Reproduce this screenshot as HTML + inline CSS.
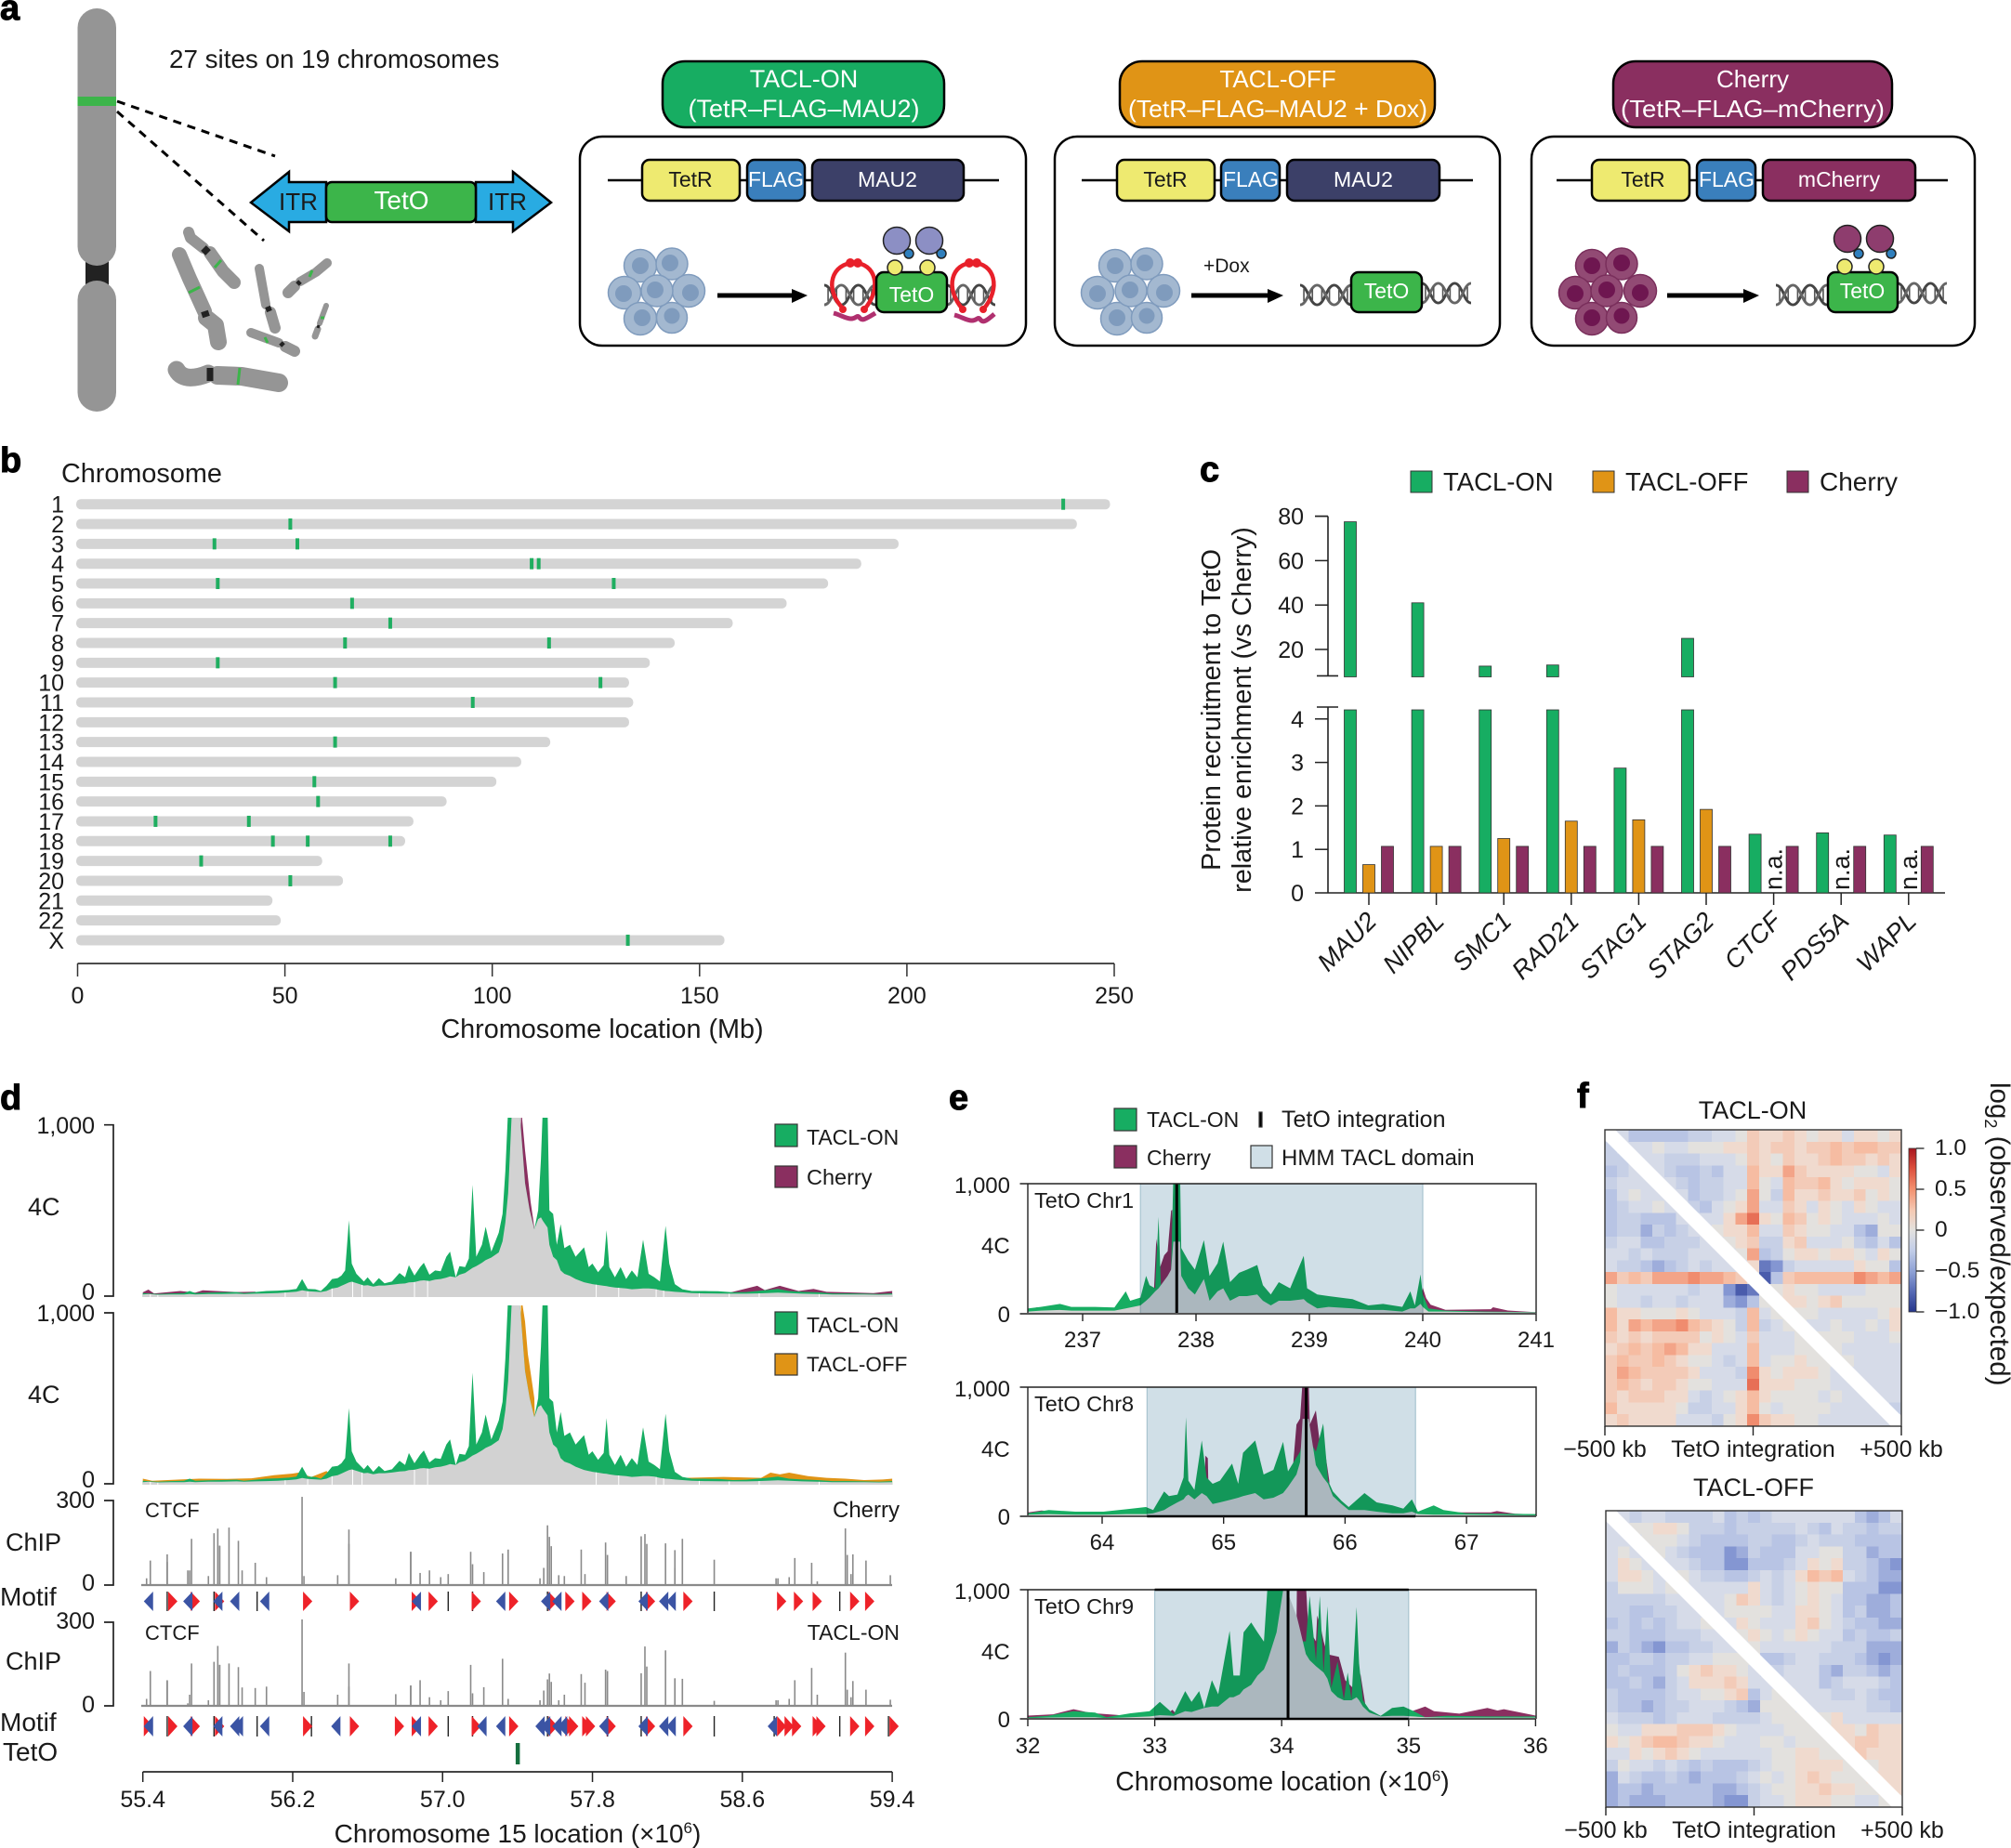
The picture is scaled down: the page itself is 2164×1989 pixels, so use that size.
<!DOCTYPE html>
<html lang="en">
<head>
<meta charset="utf-8">
<title>TACL figure</title>
<style>
html,body{margin:0;padding:0;background:#fff}
svg{display:block;font-family:"Liberation Sans",sans-serif;fill:#1a1a1a}
.w{fill:#fff}
.pl{stroke:#000;stroke-width:1}
</style>
</head>
<body>
<svg id="figure" xmlns="http://www.w3.org/2000/svg" width="2164" height="1989" viewBox="0 0 2164 1989">
<defs>
<linearGradient id="cbar" x1="0" y1="0" x2="0" y2="1">
<stop offset="0" stop-color="#a8161f"/><stop offset=".12" stop-color="#dc4e3c"/><stop offset=".25" stop-color="#f3916f"/><stop offset=".38" stop-color="#f5c9b3"/><stop offset=".5" stop-color="#e3e1de"/><stop offset=".62" stop-color="#c3cee8"/><stop offset=".75" stop-color="#8fa2d6"/><stop offset=".88" stop-color="#5468b4"/><stop offset="1" stop-color="#25358c"/>
</linearGradient>
<symbol id="dna" viewBox="0 0 54 26" overflow="visible" preserveAspectRatio="none">
<path d="M0,2C8,2 10,24 18,24S28,2 36,2S46,24 54,24" fill="none" stroke="#444" stroke-width="3"/>
<path d="M0,24C8,24 10,2 18,2S28,24 36,24S46,2 54,2" fill="none" stroke="#666" stroke-width="3"/>
<path d="M4,6V20M13,6V20M23,6V20M31,6V20M41,6V20M50,6V20" stroke="#555" stroke-width="1.6"/>
</symbol>
</defs>

<g>
<text x="0" y="21" font-size="38" font-weight="bold" fill="#000" class="pl">a</text>
<g>
<rect x="92" y="280" width="25" height="28" fill="#222"/>
<rect x="83.5" y="9" width="41.5" height="277" rx="20.7" fill="#959595"/>
<rect x="83.5" y="302" width="41.5" height="141" rx="20.7" fill="#959595"/>
<rect x="83.5" y="104" width="41.5" height="10" fill="#3cb54a"/>
</g>
<path d="M126,109L296,168M126,120L284,259" stroke="#000" stroke-width="3" stroke-dasharray="9 7" fill="none"/>
<text x="182" y="73" font-size="27.8">27 sites on 19 chromosomes</text>
<g fill="none" stroke-linecap="round" stroke-linejoin="round">
<g stroke="#959595">
<path d="M203,250L205,256L219,267" stroke-width="12"/><path d="M226,272L240,292L252,304" stroke-width="14"/>
<path d="M193,274L204,300L210,313L220,335" stroke-width="16"/><path d="M222,342L232,350L235,368" stroke-width="18"/>
<path d="M279,289L286,328" stroke-width="10"/><path d="M291,336L296,353" stroke-width="12"/>
<path d="M352,283L340,293L323,303" stroke-width="10"/><path d="M317,308L310,315" stroke-width="12"/>
<path d="M351,329L344,348" stroke-width="6"/><path d="M342,354L339,362" stroke-width="7"/>
<path d="M270,358L300,369" stroke-width="10"/><path d="M307,373L317,378" stroke-width="12"/>
<path d="M190,398C196,410 212,407 224,402" stroke-width="19"/><path d="M234,404L260,405L300,412" stroke-width="20"/>
</g>
<g stroke="#222" stroke-linecap="butt">
<path d="M219,267L224,272" stroke-width="8"/><path d="M220,335L222,341" stroke-width="8"/><path d="M288,330L290,335" stroke-width="6"/><path d="M323,303L320,306" stroke-width="5"/><path d="M343,350L342,353" stroke-width="3"/><path d="M302,369L305,372" stroke-width="5"/><path d="M226,396V410" stroke-width="7"/>
</g>
<g stroke="#3cb54a" stroke-linecap="butt" stroke-width="3">
<path d="M231,288L238,280M203,315L215,309M333,298L336,291M345,342L349,342M285,363L288,369M258,396L256,414"/>
</g>
</g>
<g stroke="#000" stroke-width="2.5">
<polygon points="270,218 311,185 311,196 351,196 351,239 311,239 311,249" fill="#29abe2"/>
<polygon points="593,218 552,185 552,196 512,196 512,239 552,239 552,249" fill="#29abe2"/>
<rect x="351" y="196" width="161" height="43" rx="6" fill="#3cb54a"/>
</g>
<text x="321" y="226" font-size="26" text-anchor="middle">ITR</text>
<text x="432" y="225" font-size="28" text-anchor="middle" class="w">TetO</text>
<text x="546" y="226" font-size="26" text-anchor="middle">ITR</text>

<g>
<rect x="713" y="66" width="303" height="71" rx="24" fill="#17ad62" stroke="#000" stroke-width="2.5"/>
<text x="865" y="94" font-size="27" text-anchor="middle" class="w">TACL-ON</text>
<text x="865" y="126" font-size="27" text-anchor="middle" class="w">(TetR–FLAG–MAU2)</text>
<rect x="624" y="147" width="480" height="225" rx="24" fill="#fff" stroke="#000" stroke-width="2.5"/>
<path d="M654,194H1075" stroke="#000" stroke-width="2.5"/>
<rect x="691" y="172" width="105" height="44" rx="8" fill="#eeea70" stroke="#000" stroke-width="2.5"/>
<rect x="804" y="172" width="62" height="44" rx="8" fill="#3a7fbc" stroke="#000" stroke-width="2.5"/>
<rect x="874" y="172" width="163" height="44" rx="8" fill="#3c4068" stroke="#000" stroke-width="2.5"/>
<text x="743" y="201" font-size="23" text-anchor="middle">TetR</text>
<text x="835" y="201" font-size="23" text-anchor="middle" class="w">FLAG</text>
<text x="955" y="201" font-size="23" text-anchor="middle" class="w">MAU2</text>
<g fill="#a3b8d0" stroke="#7f9bbd" stroke-width="1.5">
<circle cx="689" cy="286" r="17.5"/><circle cx="723" cy="284" r="17"/><circle cx="672" cy="315" r="17.5"/><circle cx="741" cy="313" r="17.5"/><circle cx="689" cy="343" r="17.5"/><circle cx="723" cy="342" r="16.5"/><circle cx="707" cy="313" r="17"/>
<g fill="#7f9bbd" stroke="none"><circle cx="689" cy="286" r="9"/><circle cx="721" cy="283" r="9"/><circle cx="671" cy="316" r="9"/><circle cx="743" cy="315" r="9"/><circle cx="691" cy="342" r="9"/><circle cx="723" cy="340" r="8.5"/><circle cx="705" cy="312" r="9"/></g>
</g>
<path d="M772,318H856" stroke="#000" stroke-width="5"/><polygon points="852,311 869,318 852,326" fill="#000"/>
<use href="#dna" x="887" y="305" width="55" height="25"/><use href="#dna" x="1019" y="305" width="52" height="25"/>
<g fill="none" stroke="#e8202a" stroke-width="4.5">
<path d="M908,333C885,310 896,283 919,283C942,283 950,310 930,333"/><path d="M1036,333C1016,310 1024,283 1047,283C1070,283 1078,310 1058,333"/>
</g>
<g fill="#e8202a"><circle cx="915" cy="283" r="5"/><circle cx="923" cy="283" r="5"/><circle cx="1043" cy="283" r="5"/><circle cx="1051" cy="283" r="5"/><circle cx="907" cy="333" r="4"/><circle cx="930" cy="333" r="4"/><circle cx="1036" cy="333" r="4"/><circle cx="1058" cy="333" r="4"/></g>
<path d="M897,337C905,339 910,343 916,343S922,338 925,342S932,343 942,337M1027,339C1035,341 1040,345 1046,345S1052,340 1055,344S1062,345 1070,338" fill="none" stroke="#b0306f" stroke-width="5"/>
<rect x="943" y="293" width="76" height="43" rx="8" fill="#3cb54a" stroke="#000" stroke-width="2.5"/>
<text x="981" y="325" font-size="23" text-anchor="middle" class="w">TetO</text>
<path d="M965,272L975,272M1000,272L1010,272" stroke="#000" stroke-width="1"/>
<g stroke="#222" stroke-width="1.5"><circle cx="965" cy="259" r="14.5" fill="#8c8fc4"/><circle cx="1000" cy="259" r="14.5" fill="#8c8fc4"/><circle cx="978" cy="273" r="5" fill="#2f7fbd"/><circle cx="1013" cy="273" r="5" fill="#2f7fbd"/><circle cx="963" cy="288" r="8" fill="#eeea70"/><circle cx="998" cy="288" r="8" fill="#eeea70"/></g>
</g>

<g>
<rect x="1205" y="66" width="339" height="71" rx="24" fill="#e09416" stroke="#000" stroke-width="2.5"/>
<text x="1375" y="94" font-size="26" text-anchor="middle" class="w">TACL-OFF</text>
<text x="1375" y="126" font-size="26" text-anchor="middle" class="w" textLength="322" lengthAdjust="spacingAndGlyphs">(TetR–FLAG–MAU2 + Dox)</text>
<rect x="1135" y="147" width="479" height="225" rx="24" fill="#fff" stroke="#000" stroke-width="2.5"/>
<path d="M1164,194H1585" stroke="#000" stroke-width="2.5"/>
<rect x="1202" y="172" width="105" height="44" rx="8" fill="#eeea70" stroke="#000" stroke-width="2.5"/>
<rect x="1314" y="172" width="63" height="44" rx="8" fill="#3a7fbc" stroke="#000" stroke-width="2.5"/>
<rect x="1385" y="172" width="164" height="44" rx="8" fill="#3c4068" stroke="#000" stroke-width="2.5"/>
<text x="1254" y="201" font-size="23" text-anchor="middle">TetR</text>
<text x="1346" y="201" font-size="23" text-anchor="middle" class="w">FLAG</text>
<text x="1467" y="201" font-size="23" text-anchor="middle" class="w">MAU2</text>
<g fill="#a3b8d0" stroke="#7f9bbd" stroke-width="1.5">
<circle cx="1200" cy="286" r="17.5"/><circle cx="1234" cy="284" r="17"/><circle cx="1181" cy="315" r="17.5"/><circle cx="1252" cy="313" r="17.5"/><circle cx="1202" cy="343" r="17.5"/><circle cx="1234" cy="342" r="16.5"/><circle cx="1217" cy="313" r="17"/>
<g fill="#7f9bbd" stroke="none"><circle cx="1200" cy="286" r="9"/><circle cx="1232" cy="283" r="9"/><circle cx="1181" cy="316" r="9"/><circle cx="1253" cy="315" r="9"/><circle cx="1202" cy="342" r="9"/><circle cx="1234" cy="340" r="8.5"/><circle cx="1216" cy="312" r="9"/></g>
</g>
<text x="1295" y="293" font-size="21">+Dox</text>
<path d="M1282,318H1368" stroke="#000" stroke-width="5"/><polygon points="1364,311 1381,318 1364,326" fill="#000"/>
<use href="#dna" x="1399" y="305" width="55" height="25"/><use href="#dna" x="1530" y="303" width="53" height="25"/>
<rect x="1454" y="293" width="76" height="43" rx="8" fill="#3cb54a" stroke="#000" stroke-width="2.5"/>
<text x="1492" y="321" font-size="23" text-anchor="middle" class="w">TetO</text>
</g>

<g>
<rect x="1736" y="66" width="300" height="71" rx="24" fill="#8a2f60" stroke="#000" stroke-width="2.5"/>
<text x="1886" y="94" font-size="26" text-anchor="middle" class="w">Cherry</text>
<text x="1886" y="126" font-size="26" text-anchor="middle" class="w" textLength="284" lengthAdjust="spacingAndGlyphs">(TetR–FLAG–mCherry)</text>
<rect x="1648" y="147" width="477" height="225" rx="24" fill="#fff" stroke="#000" stroke-width="2.5"/>
<path d="M1675,194H2096" stroke="#000" stroke-width="2.5"/>
<rect x="1713" y="172" width="105" height="44" rx="8" fill="#eeea70" stroke="#000" stroke-width="2.5"/>
<rect x="1826" y="172" width="63" height="44" rx="8" fill="#3a7fbc" stroke="#000" stroke-width="2.5"/>
<rect x="1897" y="172" width="164" height="44" rx="8" fill="#8a2f60" stroke="#000" stroke-width="2.5"/>
<text x="1768" y="201" font-size="23" text-anchor="middle">TetR</text>
<text x="1858" y="201" font-size="23" text-anchor="middle" class="w">FLAG</text>
<text x="1979" y="201" font-size="23" text-anchor="middle" class="w">mCherry</text>
<g fill="#924a74" stroke="#7a2f5c" stroke-width="1.5">
<circle cx="1713" cy="286" r="17.5"/><circle cx="1745" cy="284" r="17"/><circle cx="1695" cy="315" r="17.5"/><circle cx="1765" cy="313" r="17.5"/><circle cx="1713" cy="343" r="17.5"/><circle cx="1745" cy="342" r="16.5"/><circle cx="1729" cy="313" r="17"/>
<g fill="#6e1650" stroke="none"><circle cx="1713" cy="286" r="9"/><circle cx="1745" cy="283" r="9"/><circle cx="1695" cy="316" r="9"/><circle cx="1765" cy="315" r="9"/><circle cx="1713" cy="342" r="9"/><circle cx="1745" cy="340" r="8.5"/><circle cx="1729" cy="312" r="9"/></g>
</g>
<path d="M1794,318H1880" stroke="#000" stroke-width="5"/><polygon points="1876,311 1893,318 1876,326" fill="#000"/>
<use href="#dna" x="1911" y="305" width="55" height="25"/><use href="#dna" x="2042" y="303" width="53" height="25"/>
<rect x="1967" y="293" width="75" height="43" rx="8" fill="#3cb54a" stroke="#000" stroke-width="2.5"/>
<text x="2004" y="321" font-size="23" text-anchor="middle" class="w">TetO</text>
<g stroke="#222" stroke-width="1.5"><circle cx="1988" cy="257" r="14.5" fill="#8e3d6e"/><circle cx="2023" cy="257" r="14.5" fill="#8e3d6e"/><circle cx="2000" cy="273" r="5" fill="#2f7fbd"/><circle cx="2035" cy="273" r="5" fill="#2f7fbd"/><circle cx="1985" cy="287" r="8" fill="#eeea70"/><circle cx="2019" cy="287" r="8" fill="#eeea70"/></g>
</g>
</g>

<g id="panel-b">
<text x="0" y="508" font-size="38" font-weight="bold" fill="#000" class="pl">b</text>
<text x="66" y="519" font-size="28.8">Chromosome</text>
<text x="648" y="1117" font-size="28.8" text-anchor="middle">Chromosome location (Mb)</text>
</g>

<g id="panel-c">
<text x="1291" y="518" font-size="38" font-weight="bold" fill="#000" class="pl">c</text>
<text transform="translate(1313,764) rotate(-90)" font-size="29" text-anchor="middle">Protein recruitment to TetO</text>
<text transform="translate(1346,764) rotate(-90)" font-size="28.8" text-anchor="middle">relative enrichment (vs Cherry)</text>
<g stroke="#333" stroke-width="1">
<rect x="1518" y="507" width="23" height="23" fill="#17ad62"/><rect x="1714" y="507" width="23" height="23" fill="#e09416"/><rect x="1923" y="507" width="23" height="23" fill="#8a2f60"/>
</g>
<text x="1553" y="528" font-size="27.5">TACL-ON</text>
<text x="1749" y="528" font-size="27.5">TACL-OFF</text>
<text x="1958" y="528" font-size="28">Cherry</text>
</g>

<g id="panel-d">
<text x="0" y="1194" font-size="38" font-weight="bold" fill="#000" class="pl">d</text>
<g stroke="#333" stroke-width="1.2">
<rect x="834" y="1210" width="24" height="24" fill="#17ad62"/><rect x="834" y="1255" width="24" height="23" fill="#8a2f60"/><rect x="834" y="1412" width="24" height="24" fill="#17ad62"/><rect x="834" y="1457" width="24" height="23" fill="#e09416"/>
</g>
<text x="868" y="1232" font-size="23">TACL-ON</text>
<text x="868" y="1275" font-size="23.5">Cherry</text>
<text x="868" y="1434" font-size="23">TACL-ON</text>
<text x="868" y="1476" font-size="22.5">TACL-OFF</text>
<text x="30" y="1308" font-size="27">4C</text>
<text x="30" y="1510" font-size="27">4C</text>
<text x="6" y="1669" font-size="27">ChIP</text>
<text x="6" y="1797" font-size="27">ChIP</text>
<text x="0" y="1728" font-size="28">Motif</text>
<text x="0" y="1863" font-size="28">Motif</text>
<text x="3" y="1895" font-size="28">TetO</text>
<text x="156" y="1633" font-size="22">CTCF</text>
<text x="156" y="1765" font-size="22">CTCF</text>
<text x="968" y="1633" font-size="24" text-anchor="end">Cherry</text>
<text x="968" y="1765" font-size="23" text-anchor="end">TACL-ON</text>
<text x="557" y="1983" font-size="28" text-anchor="middle">Chromosome 15 location (×10<tspan dy="-10" font-size="17">6</tspan><tspan dy="10">)</tspan></text>
</g>

<g id="panel-e">
<text x="1021" y="1194" font-size="38" font-weight="bold" fill="#000" class="pl">e</text>
<g stroke="#333" stroke-width="1.2">
<rect x="1199" y="1193" width="24" height="24" fill="#17ad62"/><rect x="1199" y="1233" width="24" height="24" fill="#8a2f60"/><rect x="1346" y="1233" width="23" height="24" fill="#d0dfe7"/><rect x="1355" y="1197" width="3" height="16" fill="#000"/>
</g>
<text x="1234" y="1213" font-size="23">TACL-ON</text>
<text x="1234" y="1254" font-size="23">Cherry</text>
<text x="1379" y="1213" font-size="25">TetO integration</text>
<text x="1379" y="1254" font-size="24">HMM TACL domain</text>
<text x="1380" y="1927" font-size="28.3" text-anchor="middle">Chromosome location (×10<tspan dy="-10" font-size="17">6</tspan><tspan dy="10">)</tspan></text>
</g>

<g id="panel-f">
<text x="1697" y="1192" font-size="38" font-weight="bold" fill="#000" class="pl">f</text>
<text x="1886" y="1204" font-size="27" text-anchor="middle">TACL-ON</text>
<text x="1887" y="1610" font-size="27" text-anchor="middle">TACL-OFF</text>
<rect x="2054" y="1236" width="8" height="176" fill="url(#cbar)" stroke="#333" stroke-width=".8"/>
<text transform="translate(2142,1165) rotate(90)" font-size="29.5">log<tspan dy="6" font-size="18">2</tspan><tspan dy="-6"> (observed/expected)</tspan></text>
</g>

<script>
/* ---------- panel b data ---------- */
const chromNames = ['1','2','3','4','5','6','7','8','9','10','11','12','13','14','15','16','17','18','19','20','21','22','X'];
const chromLengthsMb = [249,241,198,189,181,171,158,144,138,133,134,133,114,107,101,89,81,79,59,64,47,49,156];
const tetoSitesMb = [[237.7],[51.3],[33,53],[109.5,111.2],[33.8,129.3],[66.2],[75.4],[64.5,113.7],[33.8],[62.1,126.1],[95.3],[],[62.1],[],[57.1],[58],[18.8,41.3],[47.1,55.5,75.4],[29.8],[51.3],[],[],[132.7]];
const bTicks = [0,50,100,150,200,250];

/* ---------- panel c data ---------- */
const genes = ['MAU2','NIPBL','SMC1','RAD21','STAG1','STAG2','CTCF','PDS5A','WAPL'];
const taclOnEnrichment = [77.5,41,12.5,13,2.87,25,1.35,1.38,1.33];
const taclOffEnrichment = [0.65,1.07,1.25,1.65,1.68,1.92,null,null,null];
const cherryEnrichment = [1.07,1.07,1.07,1.07,1.07,1.07,1.07,1.07,1.07];
const cUpperTicks = [20,40,60,80];
const cLowerTicks = [0,1,2,3,4];

/* ---------- panel d data ---------- */
const dMb = [55.40,55.43,55.48,55.55,55.62,55.65,55.68,55.75,55.82,55.90,55.94,56.00,56.06,56.12,56.18,56.22,56.25,56.28,56.32,56.35,56.38,56.41,56.44,56.46,56.48,56.50,56.515,56.54,56.58,56.60,56.63,56.66,56.69,56.73,56.77,56.80,56.82,56.85,56.88,56.90,56.93,56.96,56.99,57.02,57.04,57.07,57.09,57.12,57.14,57.16,57.18,57.21,57.23,57.26,57.30,57.32,57.335,57.35,57.37,57.41,57.44,57.465,57.49,57.51,57.525,57.535,57.56,57.57,57.59,57.61,57.63,57.65,57.68,57.71,57.755,57.78,57.80,57.83,57.86,57.875,57.89,57.92,57.95,57.98,58.01,58.04,58.07,58.10,58.13,58.16,58.19,58.21,58.24,58.28,58.33,58.40,58.47,58.55,58.62,58.68,58.73,58.79,58.85,58.92,59.00,59.08,59.16,59.25,59.33,59.40];
const dTaclOn = [18,16,12,16,18,30,18,20,22,24,18,24,30,32,36,42,100,42,40,30,60,100,105,120,150,443,190,130,85,110,70,105,75,85,135,110,180,120,170,195,125,150,145,230,260,110,175,170,220,650,230,300,405,260,370,480,730,1094,1094,1094,660,500,390,500,800,1094,1094,500,480,300,420,280,300,230,285,170,190,140,180,385,170,110,170,100,150,110,330,130,110,85,410,190,70,40,30,30,28,22,24,30,35,42,30,25,22,16,16,14,12,16];
const dFloor = [10,12,8,10,10,12,10,12,12,14,12,14,16,18,22,26,34,28,26,24,30,44,50,60,70,80,84,76,62,64,56,62,62,66,72,74,80,82,90,92,88,96,100,108,115,110,125,135,150,165,175,195,210,225,255,320,430,600,1094,1094,660,500,390,450,460,440,400,300,230,210,150,130,118,100,81,75,70,65,60,58,55,50,48,45,40,42,45,45,42,35,30,28,25,22,18,16,15,14,14,16,18,20,18,14,12,10,10,9,8,10];
const dCherryMb = [55.40,55.43,55.46,55.6,55.68,55.72,55.9,56.0,56.02,57.39,57.42,57.44,57.455,57.47,57.49,57.50,58.45,58.55,58.68,58.72,58.8,58.9,58.98,59.05,59.15,59.3,59.4];
const dCherry = [22,38,16,30,20,34,24,26,0,0,1094,850,700,550,400,0,0,25,60,35,60,30,42,25,22,18,30];
const dOffMb = [55.40,55.45,55.6,55.7,55.85,55.98,56.1,56.2,56.23,56.3,56.38,56.42,56.46,56.48,56.49,56.54,56.6,56.65,56.7,57.39,57.42,57.44,57.455,57.47,57.49,57.50,58.25,58.3,58.5,58.7,58.75,58.8,58.85,58.95,59.05,59.15,59.25,59.35,59.4];
const dOff = [30,18,25,30,28,32,50,60,65,40,75,35,110,150,0,70,60,50,0,0,1094,950,760,650,500,0,0,35,40,35,65,55,65,45,35,30,22,25,30];
const dGapsMb = [55.44,55.48,56.16,56.28,56.41,56.52,56.57,56.85,56.92,57.82,57.94,58.14,58.18,58.37,58.53,58.69,59.01];
const dChipMb = [55.42,55.44,55.53,55.53,55.64,55.65,55.66,55.75,55.78,55.80,55.81,55.81,55.86,55.91,55.93,56.00,56.06,56.25,56.26,56.44,56.50,56.50,56.75,56.83,56.83,56.88,56.93,56.99,57.03,57.15,57.16,57.22,57.32,57.35,57.52,57.54,57.56,57.57,57.58,57.62,57.65,57.74,57.76,57.87,57.88,57.98,58.06,58.08,58.09,58.19,58.24,58.24,58.28,58.45,58.78,58.79,58.88,58.85,58.97,59.00,59.15,59.16,59.18,59.19,59.26,59.39];
const chipCherry = [24,87,82,109,52,52,164,32,184,200,140,138,204,157,52,79,28,313,32,35,197,146,24,118,118,43,52,28,39,118,74,46,112,126,24,61,212,171,138,35,32,126,39,151,107,32,173,181,146,148,124,60,164,90,24,24,96,28,79,13,201,107,39,109,87,35];
const chipTaclOn = [25,125,89,92,9,40,152,20,158,215,147,147,152,139,66,64,69,310,50,40,152,69,42,73,73,92,31,20,53,147,45,67,169,25,20,55,95,116,86,20,40,114,83,130,125,3,117,213,141,199,99,97,97,18,20,20,92,25,136,40,191,58,31,89,58,22];
const motifReverseCherry = [55.43,55.64,55.80,55.89,56.05,56.86,57.31,57.55,57.61,57.86,58.07,58.18,58.22];
const motifForwardCherry = [55.56,55.68,55.81,56.28,56.53,56.86,56.95,57.18,57.38,57.59,57.68,57.77,57.90,58.11,58.31,58.81,58.90,59.00,59.20,59.28];
const motifLinesCherry = [55.53,55.78,56.01,57.03,57.16,57.56,58.06,58.45,59.12];
const motifReverseOn = [55.43,55.64,55.80,55.89,55.91,56.05,56.43,56.86,57.21,57.31,57.52,57.55,57.61,57.64,57.86,58.07,58.18,58.22,58.76];
const motifForwardOn = [55.43,55.56,55.68,55.81,56.28,56.53,56.77,56.86,56.95,57.18,57.38,57.59,57.68,57.70,57.77,57.79,57.90,58.11,58.31,58.81,58.85,58.89,59.00,59.02,59.20,59.28,59.41];
const motifLinesOn = [55.53,55.78,56.01,56.30,57.03,57.16,57.56,57.88,58.06,58.45,58.77,59.12,59.38];
const tetoIntegrationD = 57.4;
const dTicks = [55.4,56.2,57.0,57.8,58.6,59.4];

/* ---------- panel e data ---------- */
const e1Mb = [236.52,236.63,236.80,236.90,237.11,237.28,237.38,237.42,237.51,237.56,237.59,237.64,237.67,237.69,237.75,237.78,237.80,237.86,237.87,237.93,237.99,238.07,238.12,238.19,238.24,238.30,238.38,238.45,238.54,238.59,238.66,238.73,238.83,238.95,238.98,239.07,239.17,239.38,239.52,239.65,239.82,239.89,239.93,239.98,240.0,240.05,240.2,240.55,241.0];
const e1On = [41,53,76,53,53,48,172,100,124,291,220,196,745,220,245,340,1050,1050,506,411,339,566,291,387,554,243,315,339,375,220,148,243,196,446,196,148,136,112,64,76,53,172,64,303,148,41,24,17,12];
const e1Floor = [17,24,29,24,24,24,41,48,64,100,124,172,196,220,291,339,554,554,291,196,148,267,100,172,196,100,136,136,148,100,64,100,100,112,88,41,53,41,29,29,17,41,41,76,53,17,17,12,10];
const e1CherryMb = [236.52,236.6,236.68,236.78,236.9,236.95,237.37,237.40,237.44,237.46,237.62,237.65,237.68,237.72,237.75,237.78,237.79,237.80,239.97,240.0,240.03,240.07,240.2,240.6,240.62,240.75,241];
const e1Cherry = [30,50,35,64,30,0,0,119,60,0,0,577,350,450,480,792,800,0,0,200,120,70,30,35,50,25,12];
const e1Ticks = [237,238,239,240,241];
const e8Mb = [63.39,63.56,63.78,64.01,64.2,64.36,64.42,64.51,64.55,64.62,64.67,64.69,64.71,64.76,64.82,64.86,64.91,64.97,65.07,65.12,65.16,65.26,65.33,65.41,65.49,65.53,65.60,65.63,65.65,65.70,65.76,65.82,65.86,65.90,65.97,66.03,66.16,66.26,66.39,66.48,66.55,66.60,66.73,66.81,67.0,67.57];
const e8On = [24,48,36,36,55,72,48,192,156,168,300,767,276,204,587,300,252,276,408,252,492,587,324,360,576,348,456,500,600,600,500,719,276,192,120,72,180,108,84,60,132,36,84,48,24,17];
const e8Floor = [12,17,12,12,17,17,24,48,72,108,132,156,168,132,180,156,96,108,132,144,156,180,132,144,180,228,324,420,755,755,396,300,252,156,96,48,48,36,24,24,36,17,12,12,12,7];
const e8CherryMb = [63.39,63.5,63.62,63.9,64.0,64.62,64.63,64.64,64.84,64.85,64.87,64.88,65.55,65.57,65.60,65.63,65.65,65.70,65.71,65.76,65.79,65.84,65.87,65.88,66.6,66.9,67.2,67.25,67.4,67.57];
const e8Cherry = [30,45,35,30,0,0,190,0,0,470,450,0,0,372,710,757,1050,1050,710,820,580,470,276,0,30,30,30,40,20,15];
const e8Ticks = [64,65,66,67];
const e9Mb = [32.0,32.16,32.36,32.53,32.62,32.81,32.96,33.04,33.15,33.24,33.29,33.35,33.39,33.45,33.5,33.59,33.62,33.67,33.7,33.76,33.81,33.86,33.89,33.96,34.02,34.12,34.19,34.22,34.27,34.30,34.33,34.36,34.39,34.44,34.49,34.52,34.55,34.59,34.61,34.64,34.69,34.78,34.87,34.96,35.04,35.13,35.3,35.61,36.0];
const e9On = [12,24,60,48,12,43,60,132,36,215,132,215,84,299,191,682,335,335,670,746,670,598,1050,1050,1050,600,600,952,450,952,359,873,239,443,150,359,150,866,431,144,72,24,84,96,60,12,24,19,19];
const e9Floor = [5,10,12,12,5,12,19,29,24,60,53,72,84,96,96,167,167,191,227,263,335,383,454,670,1050,790,502,454,407,383,359,311,215,167,144,144,144,167,144,96,48,19,24,24,19,12,10,10,10];
const e9CherryMb = [32.0,32.2,32.36,32.5,32.7,33.0,33.03,33.1,33.14,33.2,34.11,34.12,34.19,34.21,34.24,34.27,34.28,34.31,34.33,34.36,34.45,34.5,34.6,34.62,34.66,34.7,34.8,34.85,35.0,35.13,35.2,35.4,35.62,35.7,35.75,36];
const e9Cherry = [25,35,75,45,30,0,90,40,70,0,0,1050,1050,700,650,600,800,700,600,500,480,300,200,350,100,0,0,60,50,95,60,40,85,65,75,25];
const e9Ticks = [32,33,34,35,36];
const eYTicks = ['0','1,000'];

/* ---------- panel f data (tenths of log2 ratio, coarse grid) ---------- */
const heatOn = [
[-1,-1,-3,-3,-3,-3,-3,-2,-2,-1,-1,0,2,1,1,2,1,0,1,1,-1,1,1,0,1],
[-2,-1,-1,-1,0,-1,-1,0,0,0,1,1,2,1,2,2,1,2,2,3,2,3,3,2,2],
[-2,-2,-1,-1,-1,-2,-2,-2,-1,-1,-1,0,2,1,0,2,1,1,2,3,2,2,1,2,1],
[-3,-2,-1,-1,-1,-2,-3,-3,-2,-3,-1,-1,3,1,1,4,2,1,1,1,1,0,0,-1,1],
[-2,-1,-1,-1,-1,-1,-2,-3,-2,-2,-1,-1,3,0,-1,3,2,2,3,1,0,1,1,1,0],
[-3,-1,0,-1,-1,-1,-1,-3,-2,-2,-1,0,4,0,-2,3,1,1,2,1,1,2,0,1,0],
[-3,-2,-1,-1,0,-1,-1,-2,-3,-1,0,1,4,-1,-1,2,1,-1,1,0,-1,1,0,-1,-1],
[-3,-2,-2,-3,-3,-3,-1,-1,-1,-1,1,4,6,1,0,3,2,0,1,0,-1,-1,-1,0,-1],
[-3,-2,-2,-4,-2,-3,-2,-1,-1,0,1,1,3,-1,-1,2,1,0,0,-1,-1,-3,-4,0,0],
[-2,-1,-1,-3,-3,-2,-2,-2,-1,-1,0,1,2,-2,-2,1,2,-1,-1,-1,0,-2,-3,-1,-3],
[-1,-1,-2,-1,-2,-2,-2,-1,-1,-1,-1,0,4,-3,-2,0,1,1,0,1,1,0,-1,1,0],
[-1,-2,-2,-3,-4,-3,-2,-1,-2,-1,-1,-1,1,-6,-5,-2,-1,-1,-1,-1,-1,1,0,0,-3],
[4,2,3,2,4,4,4,5,4,4,3,2,0,-7,-3,2,3,3,3,3,3,5,4,3,4],
[0,-1,-1,-1,-1,-1,-1,-2,-1,-1,-5,-7,-6,0,0,1,0,0,-1,-1,-1,-1,0,0,0],
[0,-1,-1,-2,-1,-1,-2,-1,-1,-1,-4,-5,-3,0,0,1,1,0,1,2,0,0,0,0,0],
[3,1,1,0,0,0,1,0,-1,-1,-1,-2,3,-1,0,0,0,0,-1,-1,-1,-1,-1,0,1],
[3,1,4,3,4,4,5,3,2,1,0,-2,3,-2,-1,0,0,-1,-1,0,-1,-1,0,-1,1],
[2,1,2,1,2,2,2,2,0,1,0,-1,2,-1,-1,-1,0,0,0,0,0,-1,-1,-1,0],
[1,2,3,2,3,4,3,1,1,-1,-1,-1,3,-1,-1,-1,0,0,0,0,-1,-1,-1,-1,-1],
[2,3,2,2,3,2,1,0,0,-1,-2,-1,3,-1,0,0,1,0,0,0,0,-1,-1,-1,-1],
[2,4,3,2,2,2,2,1,-1,-1,-1,-2,5,1,0,1,1,1,0,-1,-1,-1,-1,-1,-1],
[2,3,2,1,2,2,1,0,0,-1,-1,-1,6,1,1,1,0,0,0,-1,-1,-1,-1,-1,-1],
[2,1,2,2,2,1,1,-1,-2,-1,0,1,3,1,0,0,0,0,-1,0,-1,-1,-1,-1,-1],
[3,1,1,1,1,1,0,-2,-2,-1,-1,1,3,0,-1,0,0,0,0,-1,-1,-1,-1,-1,-2],
[1,2,1,1,1,1,-1,-1,-1,-2,0,1,5,2,1,1,0,0,-1,-1,-1,-1,-1,-1,-1]
];
const heatOff = [
[-1,-1,-2,-1,-1,-2,-2,-2,-2,-1,-3,-2,-3,-2,-1,-1,-1,-1,-1,-1,-1,-3,-4,-3,-1],
[-1,-1,0,0,1,1,0,-2,-2,-2,-3,-2,-2,-2,-2,-2,-1,-2,-3,-1,-2,-2,-3,-2,-2],
[-1,-1,-1,0,0,0,-1,-2,-3,-3,-3,-3,-2,-2,-3,-3,-2,-1,-2,-2,-2,-3,-3,-3,-3],
[-1,0,-1,-1,0,-1,-2,-3,-3,-3,-5,-4,-2,-3,-3,-3,-1,-1,0,0,-2,-2,-4,-3,-3],
[-1,1,0,-1,-1,-1,-1,-2,-3,-3,-5,-5,-3,-3,-3,-2,-1,1,0,1,-2,-2,-3,-4,-5],
[-1,1,1,0,-1,-1,0,-1,-2,-2,-3,-3,-2,-1,-2,-1,1,3,2,3,-1,-2,-3,-4,-4],
[-2,0,0,0,-1,0,0,-1,-1,-1,-1,-1,1,-1,-2,-1,0,1,0,0,-3,-3,-3,-5,-5],
[-2,-2,-2,-2,-2,-1,-1,-1,-1,-1,0,2,1,-1,-2,-1,0,1,0,-1,-3,-3,-4,-4,-3],
[-2,-2,-3,-3,-2,-2,-1,-1,-1,-1,0,0,0,0,-1,-1,1,1,0,-1,-3,-2,-4,-4,-3],
[-3,-2,-3,-2,-3,-2,-1,-1,0,0,-1,1,0,-1,-1,-1,1,2,0,-1,-2,-3,-3,-4,-4],
[-2,-2,-3,-3,-3,-2,-2,-2,-1,-1,-1,0,1,0,-1,0,1,0,-1,-1,-3,-2,-3,-3,-2],
[-4,-2,-3,-4,-5,-3,-3,-2,-2,-1,-1,-1,0,-1,-1,-1,-1,-1,-1,-2,-2,-2,-4,-4,-4],
[-3,-3,-2,-2,-3,-2,-2,-1,-1,0,0,0,0,-3,-3,-2,-1,-1,-2,-2,-2,-3,-4,-5,-4],
[-3,-2,-3,-3,-3,-2,0,1,2,1,1,0,-1,-2,-2,-1,-1,-1,-3,-4,-2,-2,-3,-4,-3],
[-3,-3,-2,-3,-4,-2,-1,1,1,1,2,1,-1,-1,-1,-1,-1,-1,-3,-2,-1,-1,-1,-2,-3],
[-2,-3,-3,-3,-3,-2,-1,-1,0,0,1,2,-3,-1,0,0,-1,-1,-1,-2,-2,-1,-2,-3,-3],
[-2,-3,-3,-4,-3,-2,-2,-1,-1,-1,-2,-3,-4,0,0,0,-1,-1,-1,-1,-1,-1,-2,-2,-3],
[-1,-2,-2,-2,-3,-2,-1,-1,-1,-2,-2,-2,-2,-1,0,0,0,0,0,1,-1,-1,-1,-1,-1],
[0,-1,-1,1,1,1,2,2,2,1,0,-1,-1,-1,-1,0,0,0,0,1,1,0,2,1,1],
[1,0,1,2,3,3,2,1,1,0,-1,-1,-1,0,0,-1,0,0,0,0,1,2,2,1,1],
[-1,-1,1,0,1,2,1,0,-1,-1,-1,-1,-1,-1,0,0,1,1,0,0,0,2,1,1,1],
[-2,0,-1,-1,-2,-1,-2,-3,-2,-3,-3,-3,-2,-1,0,0,1,1,1,1,0,0,0,1,1],
[-4,-1,-2,-3,-3,-2,-3,-4,-3,-3,-3,-2,-1,0,-1,0,1,2,1,0,0,0,1,1,1],
[-4,-3,-3,-4,-3,-3,-3,-3,-3,-4,-4,-3,-2,-1,0,0,1,1,2,1,1,0,0,1,1],
[-4,-3,-4,-4,-4,-3,-3,-3,-3,-4,-5,-5,-2,-1,-1,0,1,1,1,0,0,-1,-1,0,0]
];
const colorbarTicks = [1,0.5,0,-0.5,-1];
const colorbarLabels = ['1.0','0.5','0','−0.5','−1.0'];

/* ---------- helpers ---------- */
const NS = 'http://www.w3.org/2000/svg';
function make(parent, tag, attrs, text) {
  const node = document.createElementNS(NS, tag);
  for (const k in attrs) node.setAttribute(k, attrs[k]);
  if (text !== undefined) node.textContent = text;
  parent.appendChild(node);
  return node;
}
function line(parent, x1, y1, x2, y2, stroke, width) {
  return make(parent, 'line', {x1, y1, x2, y2, stroke, 'stroke-width': width});
}
function areaPoints(xs, vals, sx, sy, base) {
  let p = sx(xs[0]) + ',' + base;
  for (let i = 0; i < xs.length; i++) p += ' ' + sx(xs[i]).toFixed(1) + ',' + sy(vals[i]).toFixed(1);
  return p + ' ' + sx(xs[xs.length - 1]) + ',' + base;
}
function lookup(xs, vals, x) {
  for (let i = 1; i < xs.length; i++) if (x <= xs[i]) {
    const t = (x - xs[i - 1]) / (xs[i] - xs[i - 1]);
    return vals[i - 1] + t * (vals[i] - vals[i - 1]);
  }
  return vals[vals.length - 1];
}
let clipCounter = 0;
function clipRect(x, y, width, height) {
  const id = 'clip' + (++clipCounter);
  const cp = make(document.querySelector('#figure defs'), 'clipPath', {id});
  make(cp, 'rect', {x, y, width, height});
  return 'url(#' + id + ')';
}

/* ---------- panel b ---------- */
(function () {
  const g = document.getElementById('panel-b');
  const xB = mb => 83.5 + mb * 4.462;
  const rowY = i => 542.7 + i * 21.33;
  chromNames.forEach((name, i) => {
    const label = make(g, 'text', {x: 69, y: rowY(i) + 9, 'font-size': 25, 'text-anchor': 'end'}, name);
    
    
    const bar = make(g, 'rect', {x: 82, y: rowY(i) - 5.5, width: xB(chromLengthsMb[i]) - 82, height: 11, rx: 5, fill: '#d4d4d4'});
    
    
    tetoSitesMb[i].forEach(s => {
      const m = make(g, 'rect', {x: xB(s) - 2, y: rowY(i) - 6, width: 4, height: 12, fill: '#1fae60'});
      
      
    });
  });
  const axis = line(g, xB(0), 1037, xB(250), 1037, '#333', 1.8);
  
  
  bTicks.forEach(t => {
    const tick = line(g, xB(t), 1037, xB(t), 1051, '#333', 1.5);
    
    
    const lab = make(g, 'text', {x: xB(t), y: 1080, 'font-size': 25, 'text-anchor': 'middle'}, String(t));
    
    
  });
})();

/* ---------- panel c ---------- */
(function () {
  const g = document.getElementById('panel-c');
  const yU = v => 555.6 + (80 - v) * 2.39;
  const yL = v => 961 - v * 46.8;
  const base = 961, breakUp = 728.5, breakLow = 764;
  const groupX = i => 1473 + i * 72.6;
  const series = [[taclOnEnrichment, -20, '#17ad62'], [taclOffEnrichment, 0, '#e09416'], [cherryEnrichment, 20, '#8a2f60']];
  const axisLeft = make(g, 'path', {d: 'M1429,555.6V727.4M1429,761V961M1417,727.4H1440M1417,761H1440M1429,961H2093', fill: 'none', stroke: '#222', 'stroke-width': 1.6});
  
  
  cUpperTicks.concat([80]).forEach(t => {
    const tk = line(g, 1415, yU(t), 1429, yU(t), '#222', 1.5);
    
    
  });
  cUpperTicks.forEach(t => {
    const lab = make(g, 'text', {x: 1403, y: yU(t) + 9, 'font-size': 25, 'text-anchor': 'end'}, String(t));
    
    
  });
  cLowerTicks.forEach(t => {
    const tk = line(g, 1415, yL(t), 1429, yL(t), '#222', 1.5);
    
    
    const lab = make(g, 'text', {x: 1403, y: yL(t) + 9, 'font-size': 25, 'text-anchor': 'end'}, String(t));
    
    
  });
  genes.forEach((gene, i) => {
    const cx = groupX(i);
    series.forEach(([vals, off, color]) => {
      const v = vals[i];
      if (v === null) {
        const na = make(g, 'text', {transform: 'translate(' + (cx + 9) + ',958) rotate(-90)', 'font-size': 27}, 'n.a.');
        
        
        return;
      }
      const style = {x: cx + off - 6.5, width: 13, fill: color, stroke: '#333', 'stroke-width': 0.8};
      if (v > 4.28) {
        const upper = make(g, 'rect', Object.assign({y: yU(v), height: breakUp - yU(v)}, style));
        
        
        const lower = make(g, 'rect', Object.assign({y: breakLow, height: base - breakLow}, style));
        
        
      } else {
        const bar = make(g, 'rect', Object.assign({y: yL(v), height: base - yL(v)}, style));
        
        
      }
    });
    const tick = line(g, cx, 961, cx, 974, '#222', 1.5);
    
    
    const lab = make(g, 'text', {transform: 'translate(' + (cx + 10) + ',993) rotate(-45)', 'font-size': 27.5, 'font-style': 'italic', 'text-anchor': 'end'}, gene);
    
    
  });
})();

/* ---------- panel d ---------- */
(function () {
  const g = document.getElementById('panel-d');
  const xD = m => 153.7 + (m - 55.4) * 201.6;
  function track(name, base, top, clipTop, overlayMb, overlay, overlayColor) {
    const yS = v => base - v * (base - top) / 1000;
    const tg = make(g, 'g', {'clip-path': clipRect(150, clipTop, 815, base + 2 - clipTop)});
    
    
    const ov = make(tg, 'polygon', {points: areaPoints(overlayMb, overlay, xD, yS, base + 1), fill: overlayColor});
    
    
    const on = make(tg, 'polygon', {points: areaPoints(dMb, dTaclOn, xD, yS, base + 1), fill: '#17ad62'});
    
    
    const fl = make(tg, 'polygon', {points: areaPoints(dMb, dFloor, xD, yS, base + 1), fill: '#d2d2d2'});
    
    
    dGapsMb.forEach(m => {
      const gap = line(tg, xD(m), base + 1, xD(m), yS(lookup(dMb, dFloor, m)), '#fff', 1);
      
      
    });
  }
  function yAxis(name, top, base, topLabel, topY, zeroY) {
    const ax = make(g, 'path', {d: 'M112,' + top + 'H122V' + base + 'H112', fill: 'none', stroke: '#222', 'stroke-width': 1.7});
    
    
    const t1 = make(g, 'text', {x: 102, y: topY, 'font-size': 25, 'text-anchor': 'end'}, topLabel);
    
    
    const t0 = make(g, 'text', {x: 102, y: zeroY, 'font-size': 25, 'text-anchor': 'end'}, '0');
    
    
  }
  track('4c-track-cherry', 1395, 1210.7, 1203, dCherryMb, dCherry, '#8a2f60');
  track('4c-track-tacl-off', 1597, 1413, 1405, dOffMb, dOff, '#e09416');
  yAxis('4c-axis-cherry', 1210.7, 1395, '1,000', 1220, 1399);
  yAxis('4c-axis-tacl-off', 1413, 1597, '1,000', 1422, 1601);
  yAxis('chip-axis-cherry', 1615, 1706, '300', 1623, 1712);
  yAxis('chip-axis-tacl-on', 1746, 1836, '300', 1753, 1843);
  function chip(name, base, top, vals) {
    const yS = v => base - v * (base - top) / 300;
    const b = line(g, 152, base, 960, base, '#8a8a8a', 2.2);
    
    
    dChipMb.forEach((m, i) => {
      const peak = line(g, xD(m), base, xD(m), yS(vals[i]), '#8a8a8a', 1.6);
      
      
    });
  }
  chip('chip-cherry', 1706, 1615, chipCherry);
  chip('chip-tacl-on', 1836, 1746, chipTaclOn);
  function motifs(name, top, bot, rev, fwd, lines) {
    const mid = (top + bot) / 2;
    lines.forEach(m => {
      const l = line(g, xD(m), top, xD(m), bot, '#222', 1.4);
      
      
    });
    fwd.forEach(m => {
      const x = xD(m);
      const t = make(g, 'polygon', {points: (x - 5) + ',' + top + ' ' + (x + 5) + ',' + mid + ' ' + (x - 5) + ',' + bot, fill: '#ee2229'});
      
      
    });
    rev.forEach(m => {
      const x = xD(m);
      const t = make(g, 'polygon', {points: (x + 5) + ',' + top + ' ' + (x - 5) + ',' + mid + ' ' + (x + 5) + ',' + bot, fill: '#3b54a4'});
      
      
    });
  }
  motifs('cherry', 1713, 1734, motifReverseCherry, motifForwardCherry, motifLinesCherry);
  motifs('tacl-on', 1847, 1869, motifReverseOn, motifForwardOn, motifLinesOn);
  const teto = make(g, 'rect', {x: xD(tetoIntegrationD) - 2, y: 1876, width: 4.5, height: 23, fill: '#156f3e'});
  
  
  const ax = line(g, xD(55.4), 1907, xD(59.4), 1907, '#444', 2);
  
  
  dTicks.forEach(t => {
    const tk = line(g, xD(t), 1907, xD(t), 1918, '#222', 1.5);
    
    
    const lab = make(g, 'text', {x: xD(t), y: 1945, 'font-size': 25, 'text-anchor': 'middle'}, t.toFixed(1));
    
    
  });
})();

/* ---------- panel e ---------- */
(function () {
  const g = document.getElementById('panel-e');
  const L = 1106, R = 1653;
  function panel(cfg) {
    const xS = cfg.x, yS = v => cfg.bot - v * (cfg.bot - cfg.top) / 1000;
    const pg = make(g, 'g', {'clip-path': clipRect(L, cfg.top, R - L, cfg.bot - cfg.top)});
    
    
    const ch = make(pg, 'polygon', {points: areaPoints(cfg.cMb, cfg.c, xS, yS, cfg.bot), fill: '#8a2f60'});
    
    
    const on = make(pg, 'polygon', {points: areaPoints(cfg.mb, cfg.on, xS, yS, cfg.bot), fill: '#17ad62'});
    
    
    const fl = make(pg, 'polygon', {points: areaPoints(cfg.mb, cfg.floor, xS, yS, cfg.bot), fill: '#d2d2d2'});
    
    
    const dom = make(pg, 'rect', {x: xS(cfg.domain[0]), y: cfg.top, width: xS(cfg.domain[1]) - xS(cfg.domain[0]), height: cfg.bot - cfg.top, fill: '#d0dfe7', stroke: '#a8c4d0', 'stroke-width': 1.2, style: 'mix-blend-mode:multiply'});
    
    
    const mark = line(g, xS(cfg.site), cfg.top, xS(cfg.site), cfg.bot, '#000', 3);
    
    
    const frame = make(g, 'path', {d: 'M1097.5,' + cfg.top + 'H' + R + 'V' + cfg.bot + 'M' + L + ',' + cfg.top + 'V' + cfg.bot, fill: 'none', stroke: '#222', 'stroke-width': 1.4});
    
    
    const bl = line(g, 1097.5, cfg.bot, R, cfg.bot, '#555', 2);
    
    
    cfg.thick.forEach(y => {
      const th = line(g, xS(cfg.domain[0]), y, xS(cfg.domain[1]), y, '#000', 2.4);
      
      
    });
    cfg.ticks.forEach(t => {
      const tk = line(g, xS(t), cfg.bot, xS(t), cfg.bot + 8, '#222', 1.4);
      
      
      const lab = make(g, 'text', {x: xS(t), y: cfg.labelY, 'font-size': 24, 'text-anchor': 'middle'}, String(t));
      
      
    });
    const y1 = make(g, 'text', {x: 1087, y: cfg.top + 10, 'font-size': 24, 'text-anchor': 'end'}, eYTicks[1]);
    
    
    const y0 = make(g, 'text', {x: 1087, y: cfg.bot + 9, 'font-size': 24, 'text-anchor': 'end'}, eYTicks[0]);
    
    
    const yt = make(g, 'text', {x: 1056, y: cfg.top + 75, 'font-size': 24}, '4C');
    
    
    const nm = make(g, 'text', {x: 1113, y: cfg.top + 26, 'font-size': 23.5}, cfg.label);
    
    
  }
  panel({name: 'chr1', label: 'TetO Chr1', top: 1274, bot: 1414, labelY: 1450, x: m => 1165 + (m - 237) * 122, mb: e1Mb, on: e1On, floor: e1Floor, cMb: e1CherryMb, c: e1Cherry, domain: [237.51, 240.0], site: 237.83, ticks: e1Ticks, thick: []});
  panel({name: 'chr8', label: 'TetO Chr8', top: 1493, bot: 1632, labelY: 1668, x: m => 1186 + (m - 64) * 130.7, mb: e8Mb, on: e8On, floor: e8Floor, cMb: e8CherryMb, c: e8Cherry, domain: [64.37, 66.58], site: 65.68, ticks: e8Ticks, thick: [1632]});
  panel({name: 'chr9', label: 'TetO Chr9', top: 1711, bot: 1850, labelY: 1887, x: m => 1106 + (m - 32) * 136.6, mb: e9Mb, on: e9On, floor: e9Floor, cMb: e9CherryMb, c: e9Cherry, domain: [33.0, 35.0], site: 34.05, ticks: e9Ticks, thick: [1711, 1850]});
})();

/* ---------- panel f ---------- */
(function () {
  const g = document.getElementById('panel-f');
  const stops = [[-10, [37,53,140]], [-7, [74,92,172]], [-5, [132,150,210]], [-3, [184,196,228]], [-1, [214,219,232]], [0, [227,225,222]], [1, [240,218,206]], [3, [246,188,162]], [5, [240,140,110]], [7, [222,82,62]], [10, [168,22,31]]];
  function heatColor(v) {
    for (let i = 1; i < stops.length; i++) if (v <= stops[i][0]) {
      const t = (v - stops[i - 1][0]) / (stops[i][0] - stops[i - 1][0]);
      const c = stops[i - 1][1].map((a, k) => Math.round(a + t * (stops[i][1][k] - a)));
      return 'rgb(' + c.join(',') + ')';
    }
    return 'rgb(168,22,31)';
  }
  function heatmap(name, matrix, x0, y0, size, tickBottom, labelY) {
    const n = matrix.length, cell = size / n;
    const hg = make(g, 'g', {'shape-rendering': 'crispEdges'});
    
    
    matrix.forEach((row, r) => row.forEach((v, c) => {
      const rect = make(hg, 'rect', {x: x0 + c * cell, y: y0 + r * cell, width: cell + 0.5, height: cell + 0.5, fill: heatColor(v)});
      
      
    }));
    const hw = 11, x1 = x0 + size, y1 = y0 + size;
    const band = make(g, 'polygon', {points: [x0, y0, x0 + hw, y0, x1, y1 - hw, x1, y1, x1 - hw, y1, x0, y0 + hw].join(' '), fill: '#fff'});
    
    
    const frame = make(g, 'rect', {x: x0, y: y0, width: size, height: size, fill: 'none', stroke: '#333', 'stroke-width': 1.4});
    
    
    [[0, '−500 kb'], [0.5, 'TetO integration'], [1, '+500 kb']].forEach(([f, s]) => {
      const tx = x0 + f * size;
      const tk = line(g, tx, y1, tx, tickBottom, '#222', 1.4);
      
      
      const lab = make(g, 'text', {x: tx, y: labelY, 'font-size': 25, 'text-anchor': 'middle'}, s);
      
      
    });
  }
  heatmap('heatmap-tacl-on', heatOn, 1727, 1216, 319, 1545, 1568);
  heatmap('heatmap-tacl-off', heatOff, 1728, 1626, 319, 1954, 1978);
  colorbarTicks.forEach((t, i) => {
    const y = 1324 - t * 88;
    const tk = line(g, 2062, y, 2070.5, y, '#222', 1.3);
    
    
    const lab = make(g, 'text', {x: 2082, y: y + 7, 'font-size': 24.5}, colorbarLabels[i]);
    
    
  });
})();
</script>
</svg>
</body>
</html>
